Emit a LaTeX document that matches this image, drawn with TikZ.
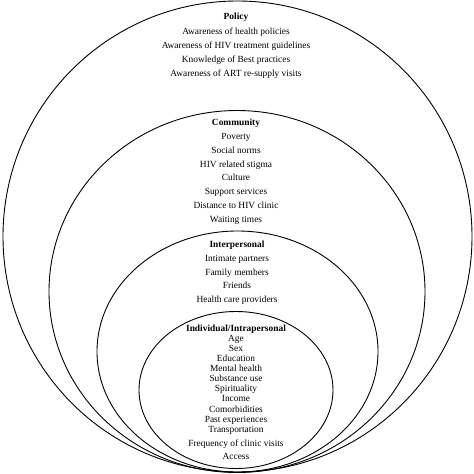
\documentclass[tikz,border=0pt]{standalone}
\usepackage{fontspec}
\setmainfont{Liberation Serif}
\usetikzlibrary{shapes.geometric}
\tikzset{
  seRing/.style={draw=black,ellipse,line width=0.9pt,inner sep=0pt},
  seList/.style={align=center,inner sep=0pt,anchor=north,
    font=\fontsize{9.4}{14.3}\selectfont}
}
\begin{document}
\begin{tikzpicture}[x=1pt,y=-1pt]
\path[use as bounding box] (0,0) rectangle (474,474);
% nested levels, outermost first
\node[seRing,minimum width=469pt,minimum height=471pt] (policy) at (237.5,236.5) {};
\node[seRing,minimum width=376pt,minimum height=362pt] (community) at (237,291.5) {};
\node[seRing,minimum width=281pt,minimum height=241pt] (interp) at (237.5,351.5) {};
\node[seRing,minimum width=194pt,minimum height=157pt] (indiv) at (236,390) {};
% factors at each level
\node[seList] (policyTxt) at (236,13) {\textbf{Policy}\\
  Awareness of health policies\\
  Awareness of HIV treatment guidelines\\
  Knowledge of Best practices\\
  Awareness of ART re-supply visits};
\node[seList,font=\fontsize{9.4}{13.8}\selectfont] (communityTxt) at (236,119)
  {\textbf{Community}\\
  Poverty\\
  Social norms\\
  HIV related stigma\\
  Culture\\
  Support services\\
  Distance to HIV clinic\\
  Waiting times};
\node[seList,font=\fontsize{9.4}{13.75}\selectfont] (interpTxt) at (237,241)
  {\textbf{Interpersonal}\\
  Intimate partners\\
  Family members\\
  Friends\\
  Health care providers};
\node[seList,font=\fontsize{9.4}{10.1}\selectfont] (indivTxt) at (236,324.5)
  {\textbf{Individual/Intrapersonal}\\
  Age\\
  Sex\\
  Education\\
  Mental health\\
  Substance use\\
  Spirituality\\
  Income\\
  Comorbidities\\
  Past experiences\\
  Transportation\\[3.9pt]
  Frequency of clinic visits\\[2.9pt]
  Access};
\end{tikzpicture}
\end{document}
